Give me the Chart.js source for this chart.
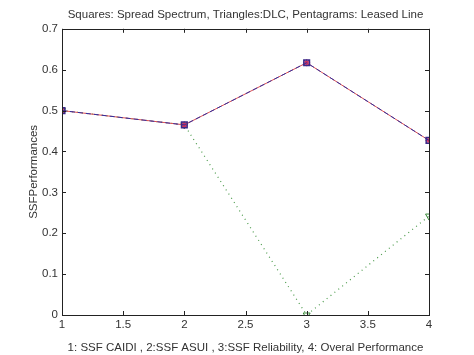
<!DOCTYPE html>
<html><head><meta charset="utf-8">
<script src="https://cdn.jsdelivr.net/npm/chart.js@4"></script>
<style>html,body{margin:0;padding:0;background:#fff}#wrap{width:474px;height:355px}</style>
</head><body><div id="wrap"><canvas id="c" width="474" height="355"></canvas></div>
<script>
const categories = [1, 2, 3, 4];
const spreadSpectrum = [0.500, 0.465, 0.617, 0.427];
const dlc = [0.500, 0.465, 0.000, 0.242];
const leasedLine = [0.500, 0.465, 0.617, 0.427];
const xTicks = [1, 1.5, 2, 2.5, 3, 3.5, 4];
const yTicks = [0, 0.1, 0.2, 0.3, 0.4, 0.5, 0.6, 0.7];
const titleText = 'Squares: Spread Spectrum, Triangles:DLC, Pentagrams: Leased Line';
const xLabel = '1: SSF CAIDI , 2:SSF ASUI , 3:SSF Reliability, 4: Overal Performance';
const yLabel = 'SSFPerformances';

const pts = arr => categories.map((c, i) => ({x: c, y: arr[i]}));
const FONT = {family: '"Liberation Sans", Arial, sans-serif', size: 11.5, weight: 'normal'};
const TXT = '#333';

const boxPlugin = {
  id: 'box',
  afterDatasetsDraw(chart) {
    const {ctx, chartArea: a, scales: {x, y}} = chart;
    ctx.save();
    ctx.strokeStyle = '#222';
    ctx.lineWidth = 1;
    const L = 4;
    ctx.beginPath();
    xTicks.forEach(v => {
      const px = Math.round(x.getPixelForValue(v)) + 0.5;
      ctx.moveTo(px, a.bottom); ctx.lineTo(px, a.bottom - L);
      ctx.moveTo(px, a.top); ctx.lineTo(px, a.top + L);
    });
    yTicks.forEach(v => {
      const py = Math.round(y.getPixelForValue(v)) + 0.5;
      ctx.moveTo(a.left, py); ctx.lineTo(a.left + L, py);
      ctx.moveTo(a.right, py); ctx.lineTo(a.right - L, py);
    });
    ctx.stroke();
    ctx.strokeRect(Math.round(a.left) + 0.5, Math.round(a.top) + 0.5, Math.round(a.right - a.left), Math.round(a.bottom - a.top));
    ctx.restore();
  }
};

new Chart(document.getElementById('c'), {
  type: 'line',
  data: {
    datasets: [
      {label: 'Spread Spectrum', data: pts(spreadSpectrum), borderColor: '#3030a0', borderWidth: 1,
       borderDash: [5, 3], pointStyle: 'rect', pointRadius: 4, pointBorderColor: '#3a2a8a',
       pointBackgroundColor: 'rgba(0,0,0,0)', pointBorderWidth: 1.5, order: 1},
      {label: 'Leased Line', data: pts(leasedLine), borderColor: '#e05050', borderWidth: 1,
       pointStyle: 'star', pointRadius: 3.5, pointBorderColor: '#d03060',
       pointBackgroundColor: 'rgba(0,0,0,0)', pointBorderWidth: 1.2, order: 2},
      {label: 'DLC', data: pts(dlc), borderColor: '#4a9a4a', borderWidth: 1.2,
       borderDash: [1, 4], pointStyle: 'triangle', rotation: 180, pointRadius: 4,
       pointBorderColor: '#3a8a3a', pointBackgroundColor: 'rgba(0,0,0,0)', pointBorderWidth: 1, order: 3}
    ]
  },
  options: {
    responsive: false,
    animation: false,
    layout: {padding: {left: 0, right: 45, top: 0, bottom: 0}},
    plugins: {
      legend: {display: false},
      tooltip: {enabled: false},
      title: {display: true, text: titleText, color: TXT, font: FONT, fullSize: false,
              padding: {top: 8, bottom: 7}}
    },
    scales: {
      x: {
        type: 'linear', min: 1, max: 4,
        afterBuildTicks: s => { s.ticks = xTicks.map(v => ({value: v})); },
        afterFit: s => { s.height = 40; },
        grid: {display: false, drawTicks: false},
        border: {display: false},
        ticks: {color: TXT, font: FONT, padding: 3, maxRotation: 0, callback: v => String(v)},
        title: {display: true, text: xLabel, color: TXT, font: FONT, padding: {top: 1, bottom: 0}}
      },
      y: {
        type: 'linear', min: 0, max: 0.7,
        afterBuildTicks: s => { s.ticks = yTicks.map(v => ({value: v})); },
        afterFit: s => { s.width = 62; },
        grid: {display: false, drawTicks: false},
        border: {display: false},
        ticks: {color: TXT, font: FONT, padding: 4, callback: v => String(v)},
        title: {display: true, text: yLabel, color: TXT, font: FONT, padding: {top: 27, bottom: 0}}
      }
    }
  },
  plugins: [boxPlugin]
});
</script></body></html>
